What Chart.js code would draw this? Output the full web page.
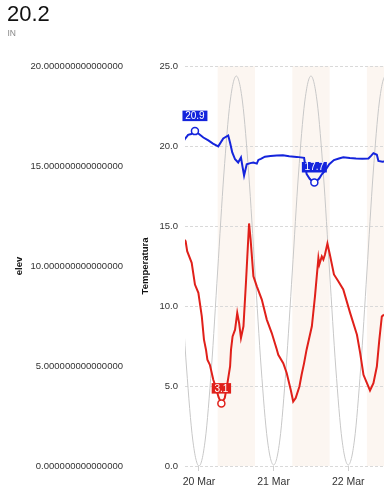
<!DOCTYPE html>
<html>
<head>
<meta charset="utf-8">
<script src="https://cdn.jsdelivr.net/npm/chart.js@4.4.0/dist/chart.umd.min.js"></script>
<style>
  html, body { margin: 0; padding: 0; background: #fff; }
  body { width: 384px; height: 500px; overflow: hidden; position: relative; font-family: "Liberation Sans", Arial, sans-serif; }
  #wrap { position: absolute; left: 0; top: 0; width: 384px; height: 500px; }
  #big { position: absolute; left: 7px; top: 3px; font-size: 22px; line-height: 22px; color: #111; }
  #unit { position: absolute; left: 7.5px; top: 29px; font-size: 8.5px; line-height: 8.5px; color: #888; }
</style>
</head>
<body>
<div id="wrap"><canvas id="chart" width="384" height="500"></canvas></div>
<div id="big">20.2</div>
<div id="unit">IN</div>
<script>
// hours counted from 20 Mar 00:00
const dayTicks = [0, 24, 48];
const dayLabels = ['20 Mar', '21 Mar', '22 Mar'];

// light bands (06:00 - 18:00)
const bandStarts = [6, 30, 54];
const bandEnds = [18, 42, 66];

// elev (grey)
const elevHours = [-6, -4, -2, 0, 2, 4, 6, 8, 10, 12, 14, 16, 18, 20, 22, 24, 26, 28, 30, 32, 34, 36, 38, 40, 42, 44, 46, 48, 50, 52, 54, 56, 58, 60, 62];
const elevValues = [9.75, 4.9, 1.3, 0, 1.3, 4.9, 9.75, 14.6, 18.2, 19.5, 18.2, 14.6, 9.75, 4.9, 1.3, 0.05, 1.3, 4.9, 9.7, 14.6, 18.2, 19.5, 18.2, 14.6, 9.7, 4.9, 1.3, 0.05, 1.3, 4.9, 9.7, 14.6, 18.2, 19.5, 18.2];

// blue temperature
const blueHours = [-5, -4.5, -3.5, -2.5, -1.3, 0, 1.4, 3, 4.5, 6.2, 7.8, 9.4, 10, 10.7, 11.6, 12.6, 13.5, 14.05, 14.5, 15.35, 16.5, 17.5, 18.6, 19.1, 19.9, 21.2, 23, 25, 27, 29, 31.4, 33.8, 34.6, 35.6, 36.4, 37.1, 37.9, 38.7, 39.5, 40.5, 41.9, 43.4, 45, 46.4, 48.5, 50.5, 52.5, 54.5, 55.4, 56.1, 57.2, 57.7, 59, 60, 61.5];
const blueValues = [20.3, 20.45, 20.7, 20.75, 20.93, 20.75, 20.53, 20.35, 20.15, 19.98, 20.47, 20.66, 20.2, 19.6, 19.17, 18.97, 19.28, 18.65, 18.15, 18.86, 18.93, 18.97, 18.9, 19.13, 19.2, 19.33, 19.38, 19.4, 19.42, 19.36, 19.32, 19.26, 18.25, 17.95, 17.8, 17.72, 17.82, 17.98, 18.23, 18.45, 18.86, 19.12, 19.22, 19.3, 19.25, 19.22, 19.2, 19.22, 19.4, 19.55, 19.45, 19.07, 19.02, 19.05, 19.1];

// red temperature
const redHours = [-5, -4.3, -3.8, -2.35, -1.3, -0.2, 0.9, 1.6, 2.25, 2.7, 3.5, 4.6, 5.5, 6.3, 7.2, 8.3, 9.2, 10.0, 10.3, 10.8, 11.6, 12.3, 12.9, 13.5, 14.3, 15.1, 16.1, 16.6, 17.5, 18.6, 20.2, 21.8, 23.4, 25.0, 25.5, 27.1, 28.2, 29.5, 30.3, 31.1, 32.3, 33.0, 33.8, 34.6, 36.3, 37.3, 38.4, 38.7, 39.5, 40.0, 40.5, 41.3, 42.1, 43.4, 44.8, 46.4, 48.6, 50.8, 51.8, 52.9, 55.0, 56.1, 57.2, 57.7, 58.0, 58.8, 59.5, 61];
const redValues = [14.2, 14.05, 13.43, 12.7, 11.34, 10.82, 9.35, 7.9, 7.27, 6.64, 6.33, 5.39, 4.85, 4.3, 3.9, 4.25, 5.24, 6.22, 7.27, 8.1, 8.52, 9.57, 8.94, 8.0, 8.73, 11.45, 15.16, 14.16, 11.86, 11.23, 10.4, 9.15, 8.31, 7.3, 6.95, 6.43, 5.81, 4.76, 4.03, 4.24, 4.97, 5.7, 6.43, 7.27, 8.73, 10.6, 13.0, 12.6, 13.1, 12.9, 13.2, 13.9, 13.2, 11.97, 11.55, 11.03, 9.57, 8.2, 7.1, 5.7, 4.72, 5.18, 6.22, 7.27, 7.9, 9.35, 9.46, 9.6];

// min / max markers
const markerSeries = [1, 1, 2];
const markerHours = [-1.3, 37.1, 7.2];
const markerTexts = ['20.9', '17.7', '3.1'];

const BLUE = '#1424dc';
const RED = '#e0201a';
const GREY = '#c8c8c8';

Chart.defaults.font.family = '"Liberation Sans", Arial, sans-serif';

function pts(hours, values) {
  return hours.map((h, i) => ({ x: h, y: values[i] }));
}

function markerRadius(seriesIdx, hours) {
  return function (c) {
    for (let i = 0; i < markerSeries.length; i++) {
      if (markerSeries[i] === seriesIdx && hours[c.dataIndex] === markerHours[i]) return 3.5;
    }
    return 0;
  };
}

const dayBands = {
  id: 'dayBands',
  beforeDraw(chart) {
    const { ctx, chartArea: a, scales: { x } } = chart;
    ctx.save();
    ctx.beginPath();
    ctx.rect(a.left, a.top, a.right - a.left, a.bottom - a.top);
    ctx.clip();
    ctx.fillStyle = 'rgba(243, 214, 190, 0.22)';
    bandStarts.forEach((s, i) => {
      const x0 = x.getPixelForValue(s);
      const x1 = x.getPixelForValue(bandEnds[i]);
      ctx.fillRect(x0, a.top, x1 - x0, a.bottom - a.top);
    });
    ctx.restore();
  }
};

const markerLabels = {
  id: 'markerLabels',
  afterDatasetsDraw(chart) {
    const ctx = chart.ctx;
    ctx.save();
    ctx.font = '10px "Liberation Sans", Arial, sans-serif';
    ctx.textAlign = 'center';
    ctx.textBaseline = 'middle';
    markerSeries.forEach((s, i) => {
      const hours = s === 1 ? blueHours : redHours;
      const idx = hours.indexOf(markerHours[i]);
      const el = chart.getDatasetMeta(s).data[idx];
      if (!el) return;
      const w = ctx.measureText(markerTexts[i]).width + 5.5;
      const h = 10.5;
      const bottom = el.y - 10;
      ctx.fillStyle = s === 1 ? BLUE : RED;
      ctx.fillRect(el.x - w / 2, bottom - h, w, h);
      ctx.fillStyle = '#fff';
      ctx.fillText(markerTexts[i], el.x, bottom - h / 2 + 0.5);
    });
    ctx.restore();
  }
};

new Chart(document.getElementById('chart'), {
  type: 'line',
  data: {
    datasets: [
      {
        label: 'elev',
        data: pts(elevHours, elevValues),
        yAxisID: 'elev',
        borderColor: GREY,
        borderWidth: 1,
        pointRadius: 0,
        cubicInterpolationMode: 'monotone',
        order: 3
      },
      {
        label: 'blue',
        data: pts(blueHours, blueValues),
        yAxisID: 'y',
        borderColor: BLUE,
        borderWidth: 2,
        tension: 0,
        pointRadius: markerRadius(1, blueHours),
        pointBackgroundColor: '#fff',
        pointBorderColor: BLUE,
        pointBorderWidth: 1.5,
        order: 1
      },
      {
        label: 'red',
        data: pts(redHours, redValues),
        yAxisID: 'y',
        borderColor: RED,
        borderWidth: 2,
        tension: 0,
        pointRadius: markerRadius(2, redHours),
        pointBackgroundColor: '#fff',
        pointBorderColor: RED,
        pointBorderWidth: 1.5,
        order: 2
      }
    ]
  },
  options: {
    responsive: false,
    animation: false,
    devicePixelRatio: 1,
    layout: { padding: { top: 66, left: 0, right: 0, bottom: 0 } },
    plugins: { legend: { display: false }, tooltip: { enabled: false } },
    scales: {
      x: {
        type: 'linear',
        min: -4.5,
        max: 59.5,
        afterBuildTicks: s => { s.ticks = dayTicks.map(v => ({ value: v })); },
        afterFit: s => { s.height = 34; },
        ticks: {
          callback: v => dayLabels[dayTicks.indexOf(v)],
          font: { size: 10.5 },
          color: '#333',
          padding: 5,
          maxRotation: 0,
          autoSkip: false
        },
        grid: { drawOnChartArea: false, drawTicks: true, tickLength: 5, color: '#d0d0d0' },
        border: { display: false }
      },
      y: {
        type: 'linear',
        position: 'left',
        weight: 0,
        min: 0,
        max: 25,
        afterFit: s => { s.width = 57; },
        ticks: { stepSize: 5, callback: v => v.toFixed(1), font: { size: 9.5 }, color: '#333', padding: 7 },
        grid: { color: '#d9d9d9', drawTicks: false },
        border: { display: false, dash: [3, 2] },
        title: { display: true, text: 'Temperatura', font: { size: 9.5, weight: 'bold' }, color: '#111', padding: { top: 12, bottom: 0 } }
      },
      elev: {
        type: 'linear',
        position: 'left',
        weight: 1,
        min: 0,
        max: 20,
        afterFit: s => { s.width = 128; },
        ticks: { stepSize: 5, callback: v => v.toFixed(15), font: { size: 9.5 }, color: '#333', padding: 5 },
        grid: { display: false, drawTicks: false },
        border: { display: false },
        title: { display: true, text: 'elev', font: { size: 9.5, weight: 'bold' }, color: '#111', padding: { top: 14, bottom: 0 } }
      }
    }
  },
  plugins: [dayBands, markerLabels]
});
</script>
</body>
</html>
